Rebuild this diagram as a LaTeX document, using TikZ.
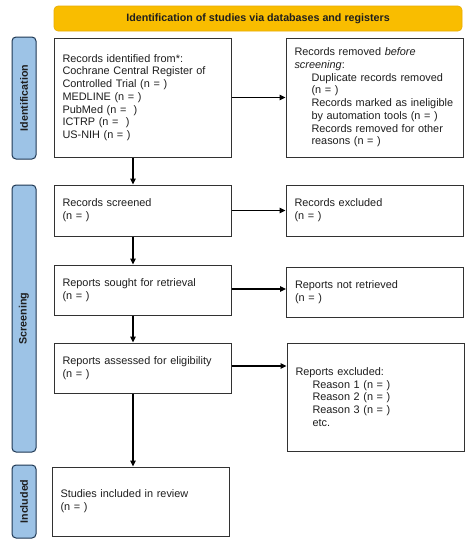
\documentclass[tikz,border=0pt]{standalone}
\usepackage{fontspec}
\setmainfont{Liberation Sans}
\usetikzlibrary{arrows.meta}
\definecolor{bannerfill}{RGB}{249,189,0}
\definecolor{bannerline}{RGB}{232,172,0}
\definecolor{sidefill}{RGB}{157,195,230}
\definecolor{sideline}{RGB}{31,56,84}
\definecolor{boxline}{RGB}{50,50,50}
\definecolor{txt}{RGB}{30,30,30}
\tikzset{
  stagebox/.style={draw=boxline, line width=1pt, rectangle, minimum width=177pt,
    text width=160pt, align=left, inner sep=8.5pt, text=txt,
    font=\fontsize{10.9}{12.7}\selectfont},
  sidelabel/.style={draw=sideline, fill=sidefill, line width=1pt, rounded corners=4pt,
    minimum width=24pt, inner sep=0pt, font=\bfseries\fontsize{10.7}{12}\selectfont, text=txt},
  banner/.style={draw=bannerline, fill=bannerfill, rounded corners=4pt, line width=0.6pt,
    minimum width=408pt, minimum height=25pt, inner sep=0pt,
    font=\bfseries\fontsize{10.7}{12}\selectfont, text=txt},
  flow/.style={draw=black, line width=1.1pt, -{Triangle[length=6pt,width=5.5pt]}}
}
\newcommand{\ind}{\hspace*{17pt}}
\begin{document}
\begin{tikzpicture}[x=1pt,y=-1pt]
\useasboundingbox (0,0) rectangle (474,544);
\fill[white] (0,0) rectangle (474,544);

\node[banner] (ban) at (258,18.5) {Identification of studies via databases and registers};

\node[sidelabel, minimum height=122pt] (sid) at (24,98) {\rotatebox{90}{Identification}};
\node[sidelabel, minimum height=267pt] (sscr) at (24,318.5) {\rotatebox{90}{Screening}};
\node[sidelabel, minimum height=73pt] (sinc) at (24,501.5) {\rotatebox{90}{Included}};

\node[stagebox, minimum height=119pt] (b1) at (142.5,97.5) {Records identified from*:\\
Cochrane Central Register of\\ Controlled Trial (n = )\\ MEDLINE (n = )\\ PubMed (n =~ )\\ ICTRP (n =~ )\\ US-NIH (n = )\\[2pt]};
\node[stagebox, minimum height=119pt] (b2) at (374.5,97.5) {Records removed \textit{before}\\
\textit{screening}:\\
\ind Duplicate records removed\\
\ind (n = )\\
\ind Records marked as ineligible\\
\ind by automation tools (n = )\\
\ind Records removed for other\\
\ind reasons (n = )};

\node[stagebox, minimum height=51pt] (b3) at (142.5,210.5) {Records screened\\ (n = )};
\node[stagebox, minimum height=51pt] (b4) at (374.5,210.5) {Records excluded\\ (n = )};

\node[stagebox, minimum height=50pt] (b5) at (142.5,290) {Reports sought for retrieval\\ (n = )};
\node[stagebox, minimum height=50pt] (b6) at (375,292) {Reports not retrieved\\ (n = )};

\node[stagebox, minimum height=50pt] (b7) at (142.5,368) {Reports assessed for eligibility\\ (n = )};
\node[stagebox, minimum height=108pt] (b8) at (375.5,397) {Reports excluded:\\
\ind Reason 1 (n = )\\
\ind Reason 2 (n = )\\
\ind Reason 3 (n = )\\
\ind etc.};

\node[stagebox, minimum height=69pt] (b9) at (140.5,501.5) {Studies included in review\\ (n = )};

% horizontal arrows
\draw[flow] (b1.east) -- (b1.east -| b2.west);
\draw[flow] (b3.east) -- (b3.east -| b4.west);
\draw[flow] ([yshift=1pt]b5.east) -- ([yshift=1pt]b5.east -| b6.west);
\draw[flow] ([yshift=2pt]b7.east) -- ([yshift=2pt]b7.east -| b8.west);

% vertical arrows
\draw[flow] ([xshift=-9.5pt]b1.south) -- ([xshift=-9.5pt]b1.south |- b3.north);
\draw[flow] ([xshift=-9.5pt]b3.south) -- ([xshift=-9.5pt]b3.south |- b5.north);
\draw[flow] ([xshift=-9.5pt]b5.south) -- ([xshift=-9.5pt]b5.south |- b7.north);
\draw[flow] ([xshift=-9.5pt]b7.south) -- ([xshift=-9.5pt]b7.south |- b9.north);
\end{tikzpicture}
\end{document}
